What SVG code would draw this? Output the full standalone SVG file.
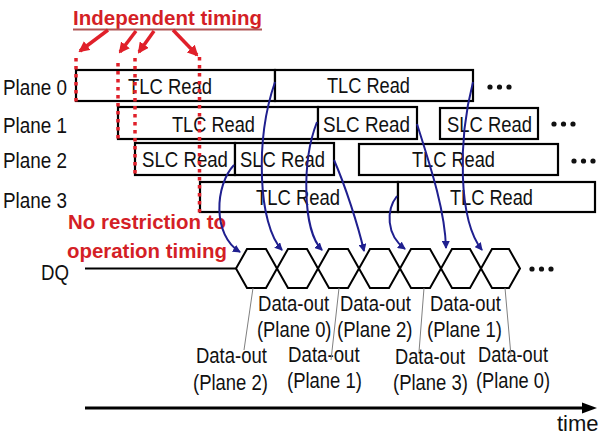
<svg xmlns="http://www.w3.org/2000/svg" width="600" height="439" viewBox="0 0 600 439">
<style>
.lbl{font-family:"Liberation Sans",Arial,sans-serif;font-size:22px;fill:#111}
.red{font-family:"Liberation Sans",Arial,sans-serif;font-weight:bold;font-size:21px;fill:#d41f26}
.box{fill:#fff;stroke:#000;stroke-width:2.2}
.hex{fill:#fff;stroke:#000;stroke-width:2}
.blue{fill:none;stroke:#1f1f8f;stroke-width:2;marker-end:url(#ab)}
.rarr{stroke:#e0202a;stroke-width:3.5;marker-end:url(#ar)}
.rdot{stroke:#e0202a;stroke-width:3.5;stroke-dasharray:3.5 4.5;fill:none}
.lead{stroke:#808080;stroke-width:1}
.dot{fill:#111}
</style>
<defs>
<marker id="ab" markerWidth="8" markerHeight="8" refX="7" refY="4" orient="auto" markerUnits="userSpaceOnUse"><path d="M0,0 L8,4 L0,8 z" fill="#1f1f8f"/></marker>
<marker id="ar" markerWidth="11" markerHeight="11" refX="9" refY="5.5" orient="auto" markerUnits="userSpaceOnUse"><path d="M0,0 L11,5.5 L0,11 z" fill="#e0202a"/></marker>
</defs>
<rect width="600" height="439" fill="#fff"/>

<g id="title">
<text class="red" x="73" y="25" textLength="189" lengthAdjust="spacingAndGlyphs">Independent timing</text>
<line x1="73" y1="29.5" x2="262" y2="29.5" stroke="#b05454" stroke-width="2"/>
</g>

<g id="plane-labels">
<text class="lbl" x="3" y="95" textLength="64" lengthAdjust="spacingAndGlyphs">Plane 0</text>
<text class="lbl" x="3" y="133" textLength="64" lengthAdjust="spacingAndGlyphs">Plane 1</text>
<text class="lbl" x="3" y="168" textLength="64" lengthAdjust="spacingAndGlyphs">Plane 2</text>
<text class="lbl" x="3" y="208" textLength="64" lengthAdjust="spacingAndGlyphs">Plane 3</text>
</g>

<g id="plane0">
<rect class="box" x="76" y="70" width="199" height="31"/>
<text class="lbl" x="128" y="94" textLength="84" lengthAdjust="spacingAndGlyphs">TLC Read</text>
<rect class="box" x="275" y="70" width="198" height="31"/>
<text class="lbl" x="327" y="93" textLength="83" lengthAdjust="spacingAndGlyphs">TLC Read</text>
<circle class="dot" cx="490" cy="87" r="2.6"/><circle class="dot" cx="499.5" cy="87" r="2.6"/><circle class="dot" cx="509" cy="87" r="2.6"/>
</g>

<g id="plane1">
<rect class="box" x="118" y="107" width="200" height="32"/>
<text class="lbl" x="172" y="132" textLength="83" lengthAdjust="spacingAndGlyphs">TLC Read</text>
<rect class="box" x="318" y="107" width="99" height="32"/>
<text class="lbl" x="323" y="132" textLength="87" lengthAdjust="spacingAndGlyphs">SLC Read</text>
<rect class="box" x="440" y="108" width="98" height="31"/>
<text class="lbl" x="447" y="132" textLength="85" lengthAdjust="spacingAndGlyphs">SLC Read</text>
<circle class="dot" cx="554" cy="124" r="2.6"/><circle class="dot" cx="563.5" cy="124" r="2.6"/><circle class="dot" cx="573" cy="124" r="2.6"/>
</g>

<g id="plane2">
<rect class="box" x="135" y="143" width="100" height="32"/>
<text class="lbl" x="142" y="167" textLength="86" lengthAdjust="spacingAndGlyphs">SLC Read</text>
<rect class="box" x="235" y="143" width="99" height="32"/>
<text class="lbl" x="240" y="167" textLength="85" lengthAdjust="spacingAndGlyphs">SLC Read</text>
<rect class="box" x="359" y="144" width="199" height="31"/>
<text class="lbl" x="412" y="167" textLength="83" lengthAdjust="spacingAndGlyphs">TLC Read</text>
<circle class="dot" cx="574" cy="161" r="2.6"/><circle class="dot" cx="583.5" cy="161" r="2.6"/><circle class="dot" cx="593" cy="161" r="2.6"/>
</g>

<g id="plane3">
<rect class="box" x="200" y="182" width="198" height="30"/>
<text class="lbl" x="256" y="205" textLength="84" lengthAdjust="spacingAndGlyphs">TLC Read</text>
<rect class="box" x="398" y="182" width="197" height="30"/>
<text class="lbl" x="450" y="205" textLength="83" lengthAdjust="spacingAndGlyphs">TLC Read</text>
</g>

<g id="timing-markers">
<line class="rdot" x1="76" y1="58" x2="76" y2="102"/>
<line class="rdot" x1="118" y1="63" x2="118" y2="139"/>
<line class="rdot" x1="135" y1="58" x2="135" y2="176"/>
<line class="rdot" x1="199.5" y1="57" x2="199.5" y2="213"/>
</g>

<g id="note">
<text class="red" x="68" y="229" textLength="158" lengthAdjust="spacingAndGlyphs">No restriction to</text>
<text class="red" x="67" y="258" textLength="160" lengthAdjust="spacingAndGlyphs">operation timing</text>
</g>

<g id="dq">
<text class="lbl" x="41" y="280" textLength="28" lengthAdjust="spacingAndGlyphs">DQ</text>
<line x1="85" y1="268.5" x2="236" y2="268.5" stroke="#000" stroke-width="2"/>
</g>

<g id="dq-hexes">
<polygon class="hex" points="236,268.5 247,249 266,249 277,268.5 266,288 247,288"/>
<polygon class="hex" points="277,268.5 288,249 307,249 318,268.5 307,288 288,288"/>
<polygon class="hex" points="318,268.5 329,249 348,249 359,268.5 348,288 329,288"/>
<polygon class="hex" points="359,268.5 370,249 389,249 400,268.5 389,288 370,288"/>
<polygon class="hex" points="400,268.5 411,249 430,249 441,268.5 430,288 411,288"/>
<polygon class="hex" points="441,268.5 452,249 470,249 481,268.5 470,288 452,288"/>
<polygon class="hex" points="481,268.5 492,249 509,249 520,268.5 509,288 492,288"/>
<circle class="dot" cx="532" cy="269" r="2.6"/><circle class="dot" cx="541.5" cy="269" r="2.6"/><circle class="dot" cx="551" cy="269" r="2.6"/>
</g>

<g id="dataout-labels">
<text class="lbl" transform="translate(258,311) scale(0.845,1)">Data-out</text>
<text class="lbl" transform="translate(257,336.5) scale(0.835,1)">(Plane 0)</text>
<text class="lbl" transform="translate(340,311) scale(0.84,1)">Data-out</text>
<text class="lbl" transform="translate(337,336.5) scale(0.845,1)">(Plane 2)</text>
<text class="lbl" transform="translate(430,311) scale(0.84,1)">Data-out</text>
<text class="lbl" transform="translate(427,336.5) scale(0.84,1)">(Plane 1)</text>
<text class="lbl" transform="translate(196,363) scale(0.84,1)">Data-out</text>
<text class="lbl" transform="translate(193,390) scale(0.84,1)">(Plane 2)</text>
<text class="lbl" transform="translate(288,362) scale(0.85,1)">Data-out</text>
<text class="lbl" transform="translate(287,388) scale(0.84,1)">(Plane 1)</text>
<text class="lbl" transform="translate(395,364) scale(0.83,1)">Data-out</text>
<text class="lbl" transform="translate(393,390) scale(0.84,1)">(Plane 3)</text>
<text class="lbl" transform="translate(478,362) scale(0.83,1)">Data-out</text>
<text class="lbl" transform="translate(476,388) scale(0.83,1)">(Plane 0)</text>
</g>

<g id="time-axis">
<line x1="85" y1="408" x2="585" y2="408" stroke="#000" stroke-width="3"/>
<polygon points="582,402.5 597,408 582,413.5" fill="#000"/>
<text class="lbl" x="557" y="431" font-size="23">time</text>
</g>

<g id="connectors">
<line class="rarr" x1="108" y1="30" x2="80" y2="51"/>
<line class="rarr" x1="136" y1="31" x2="120" y2="52"/>
<line class="rarr" x1="154" y1="31" x2="139" y2="52"/>
<line class="rarr" x1="173" y1="30" x2="197" y2="55"/>
<path class="blue" d="M234,165 C215,185 212,235 240,252"/>
<path class="blue" d="M275,82 C255,140 258,225 282,250"/>
<path class="blue" d="M317,122 C302,160 302,230 322,250"/>
<path class="blue" d="M334,160 C345,185 358,225 364,251"/>
<path class="blue" d="M397,196 C386,210 386,235 405,249"/>
<path class="blue" d="M417,124 C430,165 445,210 446,248"/>
<path class="blue" d="M473,82 C458,140 458,220 482,250"/>
<line class="lead" x1="253" y1="288" x2="244" y2="350"/>
<line class="lead" x1="339" y1="288" x2="331" y2="360"/>
<line class="lead" x1="424" y1="288" x2="419" y2="352"/>
<line class="lead" x1="505" y1="288" x2="511" y2="356"/>
</g>
</svg>
